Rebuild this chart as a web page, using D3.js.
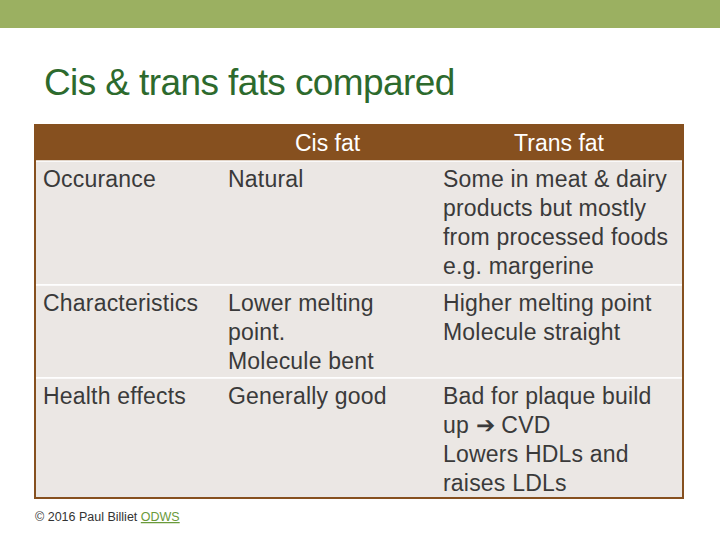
<!DOCTYPE html>
<html><head><meta charset="utf-8">
<script src="https://cdn.jsdelivr.net/npm/d3@7"></script>
<style>body{margin:0;background:#fff}</style>
</head><body>
<script>
var headers = ['', 'Cis fat', 'Trans fat'];
var rowLabels = ['Occurance', 'Characteristics', 'Health effects'];
var cisCells = [['Natural'], ['Lower melting', 'point.', 'Molecule bent'], ['Generally good']];
var transCells = [
  ['Some in meat & dairy', 'products but mostly', 'from processed foods', 'e.g. margerine'],
  ['Higher melting point', 'Molecule straight'],
  ['Bad for plaque build', 'up \u2794 CVD', 'Lowers HDLs and', 'raises LDLs']
];
var rowEdges = [161, 285, 378, 498];

var svg = d3.select('body').append('svg').attr('width', 720).attr('height', 540)
  .style('font-family', 'Liberation Sans, Arial, sans-serif');

svg.append('rect').attr('width', 720).attr('height', 28).attr('fill', '#9bb061');
svg.append('text').attr('x', 44).attr('y', 95).attr('font-size', 37).attr('fill', '#2d6a2d')
  .attr('letter-spacing', -0.6).text('Cis & trans fats compared');

var x = d3.scaleOrdinal().domain([0, 1, 2]).range([35, 220, 435]);
var colW = [185, 215, 248];

// header
svg.append('rect').attr('x', 35).attr('y', 125).attr('width', 648).attr('height', 36).attr('fill', '#86501f');
svg.selectAll('.hd').data(headers).join('text')
  .attr('x', function (d, i) { return x(i) + colW[i] / 2; }).attr('y', 151)
  .attr('text-anchor', 'middle').attr('font-size', 23).attr('fill', '#fff').text(function (d) { return d; });

// body rows
var rows = rowLabels.map(function (l, i) { return [[l], cisCells[i], transCells[i]]; });
rows.forEach(function (r, i) {
  var y0 = rowEdges[i], y1 = rowEdges[i + 1];
  svg.append('rect').attr('x', 35).attr('y', y0).attr('width', 648).attr('height', y1 - y0)
    .attr('fill', '#ebe7e4').attr('stroke', '#fff').attr('stroke-width', 1.5);
  r.forEach(function (lines, c) {
    svg.append('g').selectAll('text').data(lines).join('text')
      .attr('x', x(c) + 8).attr('y', function (d, k) { return y0 + 26 + k * 29; })
      .attr('font-size', 23).attr('letter-spacing', 0.2).attr('fill', '#3a3a3a').text(function (d) { return d; });
  });
});
svg.append('rect').attr('x', 35).attr('y', 125).attr('width', 648).attr('height', 373)
  .attr('fill', 'none').attr('stroke', '#86501f').attr('stroke-width', 2);

var ft = svg.append('text').attr('x', 35).attr('y', 521).attr('font-size', 12.5).attr('fill', '#333');
ft.append('tspan').text('\u00a9 2016 Paul Billiet ');
ft.append('tspan').attr('fill', '#6a9a3a').attr('text-decoration', 'underline').text('ODWS');
</script>
</body></html>
